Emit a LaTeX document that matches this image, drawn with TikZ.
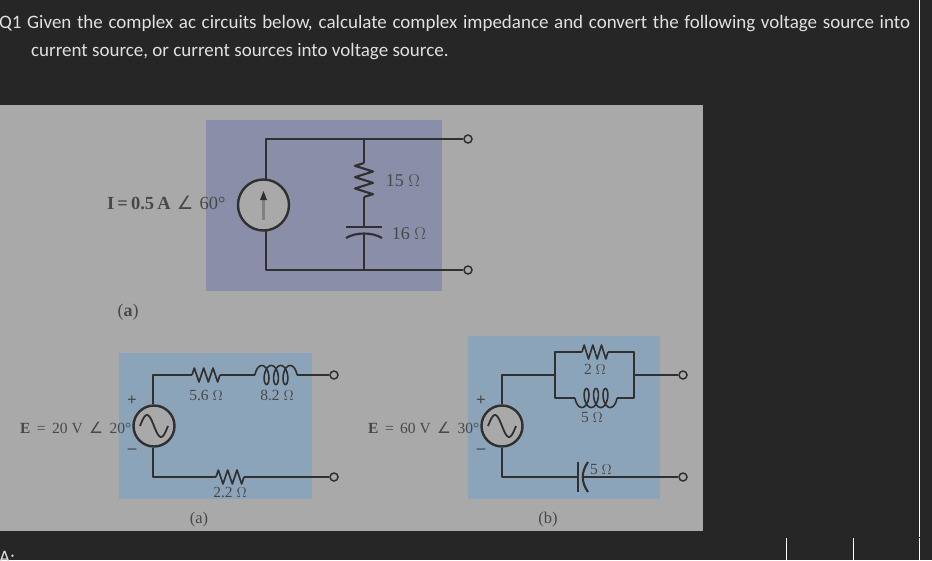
\documentclass[tikz,border=0pt]{standalone}
\usepackage{fontspec}
\setmainfont{Liberation Serif}
\newfontfamily\bodyfont{Carlito}
\newfontfamily\symfont{DejaVu Sans}
\usetikzlibrary{calc}
\definecolor{pagedark}{HTML}{262626}
\definecolor{photogray}{HTML}{A9A9A9}
\definecolor{panelviolet}{HTML}{8A8EA8}
\definecolor{panelblue}{HTML}{8CA4B9}
\definecolor{inkdark}{HTML}{303030}
\definecolor{labelgray}{HTML}{484848}
\newcommand{\ohm}{$\Omega$}
\newcommand{\ang}{{\symfont ∠}}
% horizontal resistor: x0, x1, y
\newcommand{\hres}[3]{%
  \pgfmathsetmacro{\zigw}{(#2-#1)/6}
  \draw[wirethin] (#1,#3) -- ++(\zigw/2,-7) -- ++(\zigw,14) -- ++(\zigw,-14) -- ++(\zigw,14) -- ++(\zigw,-14) -- ++(\zigw,14) -- (#2,#3);}
% vertical resistor: x, y0, y1
\newcommand{\vres}[3]{%
  \pgfmathsetmacro{\zigw}{(#3-#2)/6}
  \draw[wirethick] (#1,#2) -- ++(-9,\zigw/2) -- ++(18,\zigw) -- ++(-18,\zigw) -- ++(18,\zigw) -- ++(-18,\zigw) -- ++(18,\zigw) -- (#1,#3);}
% coil: x0, x1, y centre, signed radius
\newcommand{\coil}[4]{%
  \draw[wirethin] plot[variable=\t,domain=90:1350,samples=140,smooth]
   ({#1+4.5+(\t-90)/1260*(#2-#1-9)-4.5*sin(\t)},{#3+(#4)*cos(\t)});}
% sine in a source at x,y
\newcommand{\acwave}[2]{%
  \draw[wirethin,line width=1.8pt] plot[variable=\t,domain=-180:180,samples=40,smooth]
   ({#1+\t/180*14},{#2-11*sin(\t+180)});}
\tikzset{
  wirethin/.style={draw=inkdark,line width=1.6pt,line join=round},
  wirethick/.style={draw=inkdark,line width=2.1pt,line join=round},
  terminal/.style={circle,draw=inkdark,line width=1.5pt,fill=photogray,inner sep=0pt,minimum size=8pt},
  source/.style={circle,draw=inkdark,line width=2.4pt,fill=photogray,inner sep=0pt,minimum size=41pt},
  lab/.style={text=labelgray,inner sep=0pt,font=\fontsize{15.5}{16}\selectfont},
  labbig/.style={lab,font=\fontsize{18}{18}\selectfont},
  sign/.style={lab,font=\fontsize{17}{17}\selectfont\bfseries},
  bigtext/.style={text=white!88!black,inner sep=0pt,anchor=base west,font=\bodyfont\fontsize{19}{20}\selectfont},
  rule/.style={draw=white,line width=1pt}
}
\begin{document}
\begin{tikzpicture}[x=1pt,y=-1pt]
\useasboundingbox (0,0) rectangle (932,560);
\clip (0,0) rectangle (932,560);
\fill[pagedark] (0,0) rectangle (932,560);
\fill[photogray] (0,105) rectangle (703,531);
\fill[panelviolet] (206,120) rectangle (442,291);
\fill[panelblue] (119,353) rectangle (312,499);
\fill[panelblue] (468,336) rectangle (660,499);

\node[bigtext] (lineone) at (-1,28) {\makebox[911pt][s]{Q1 Given the complex ac circuits below, calculate complex impedance and convert the following voltage source into}};
\node[bigtext] (linetwo) at (31,56) {current source, or current sources into voltage source.};
\node[bigtext] (answer) at (-1,563) {A:};

\draw[rule] (919,0) -- (919,537);
\draw[rule] (786,538) -- (786,560);
\draw[rule] (853,538) -- (853,560);
\draw[rule] (919,538) -- (919,560);

% ---- top circuit
\coordinate (tl) at (266,139);
\coordinate (bl) at (266,270);
\coordinate (tm) at (364,139);
\coordinate (bm) at (364,270);
\coordinate (r1a) at (364,163);
\coordinate (r1b) at (364,197);
\coordinate (c1a) at (364,227);
\coordinate (c1b) at (364,234);
\node[terminal] (t1) at (468,139) {};
\node[terminal] (t2) at (468,270) {};
\draw[wirethick] (266,185) -- (tl) -- (t1);
\draw[wirethick] (266,225) -- (bl) -- (t2);
\draw[wirethick] (tm) -- (r1a);
\draw[wirethick] (r1b) -- (c1a);
\draw[wirethick] (c1b) -- (bm);
\node[source,minimum size=51pt] (srcI) at (263.5,205) {};
\vres{364}{163}{197}
\draw[wirethick] (346,227) -- (382,227);
\draw[wirethick] (346,238) .. controls (356,232) and (372,232) .. (382,238);
\draw[line width=3pt,draw=gray] (263.5,220) -- (263.5,198);
\fill[inkdark] (263.5,191) -- (267,200) -- (260,200) -- cycle;
\node[labbig] (l15) at (403,181) {15 \ohm};
\node[labbig] (l16) at (409,234) {16 \ohm};
\node[lab,anchor=west,font=\fontsize{18.5}{19}\selectfont] (lI) at (107,203) {\textbf{I\,=\,0.5\,A}\,\,\ang\,\,60°};
\node[labbig] (capa) at (128,312) {(\textbf{a})};

% ---- circuit (a)
\coordinate (atl) at (153,375);
\coordinate (abl) at (153,477);
\coordinate (ar1a) at (192,375);
\coordinate (ar1b) at (220,375);
\coordinate (al1a) at (255,375);
\coordinate (al1b) at (297,375);
\coordinate (ar2a) at (216,477);
\coordinate (ar2b) at (244,477);
\node[source] (srcA) at (154,426) {};
\node[terminal] (t3) at (334,375) {};
\node[terminal] (t4) at (334,477) {};
\draw[wirethin] (srcA.north -| atl) -- (atl) -- (ar1a);
\draw[wirethin] (ar1b) -- (al1a);
\draw[wirethin] (al1b) -- (t3);
\draw[wirethin] (srcA.south -| abl) -- (abl) -- (ar2a);
\draw[wirethin] (ar2b) -- (t4);
\hres{192}{220}{375}
\coil{255}{297}{375}{9.5}
\hres{216}{244}{477}
\acwave{154}{426}
\node[lab] (la1) at (206,395) {5.6 \ohm};
\node[lab] (la2) at (277,395) {8.2 \ohm};
\node[lab] (la3) at (230,492) {2.2 \ohm};
\node[sign] (pa) at (132,401) {+};
\node[sign] (ma) at (132,451) {–};
\node[lab,anchor=west] (la4) at (20,428) {\textbf{E} \,=\, 20 V \,\ang\, 20°};
\node[lab,font=\fontsize{16.5}{17}\selectfont] (capb) at (199,520) {(a)};

% ---- circuit (b)
\coordinate (btl) at (502,375);
\coordinate (bbl) at (502,477);
\coordinate (pl) at (555,375);
\coordinate (pr) at (634,375);
\coordinate (ptl) at (555,352);
\coordinate (ptr) at (634,352);
\coordinate (pbl) at (555,398);
\coordinate (pbr) at (634,398);
\coordinate (brA) at (582,352);
\coordinate (brB) at (608,352);
\coordinate (blA) at (575,398);
\coordinate (blB) at (617,398);
\coordinate (bc1) at (578,477);
\coordinate (bc2) at (583,477);
\node[source] (srcB) at (502,426) {};
\node[terminal] (t5) at (683,375) {};
\node[terminal] (t6) at (683,477) {};
\draw[wirethin] (srcB.north -| btl) -- (btl) -- (pl);
\draw[wirethin] (brA) -- (ptl) -- (pbl) -- (blA);
\draw[wirethin] (brB) -- (ptr) -- (pbr) -- (blB);
\draw[wirethin] (pr) -- (t5);
\draw[wirethin] (srcB.south -| bbl) -- (bbl) -- (bc1);
\draw[wirethin] (bc2) -- (t6);
\hres{582}{608}{352}
\coil{575}{617}{398}{-9.5}
\draw[wirethick] (578,462) -- (578,492);
\draw[wirethick] (588,462) .. controls (581,472) and (581,482) .. (588,492);
\acwave{502}{426}
\node[lab] (lb1) at (595,369) {2 \ohm};
\node[lab] (lb2) at (592,417) {5 \ohm};
\node[lab] (lb3) at (601,469) {5 \ohm};
\node[sign] (pb) at (481,401) {+};
\node[sign] (mb) at (481,451) {–};
\node[lab,anchor=west] (lb4) at (368,428) {\textbf{E} \,=\, 60 V \,\ang\, 30°};
\node[lab,font=\fontsize{16.5}{17}\selectfont] (capc) at (548,520) {(b)};
\end{tikzpicture}
\end{document}
